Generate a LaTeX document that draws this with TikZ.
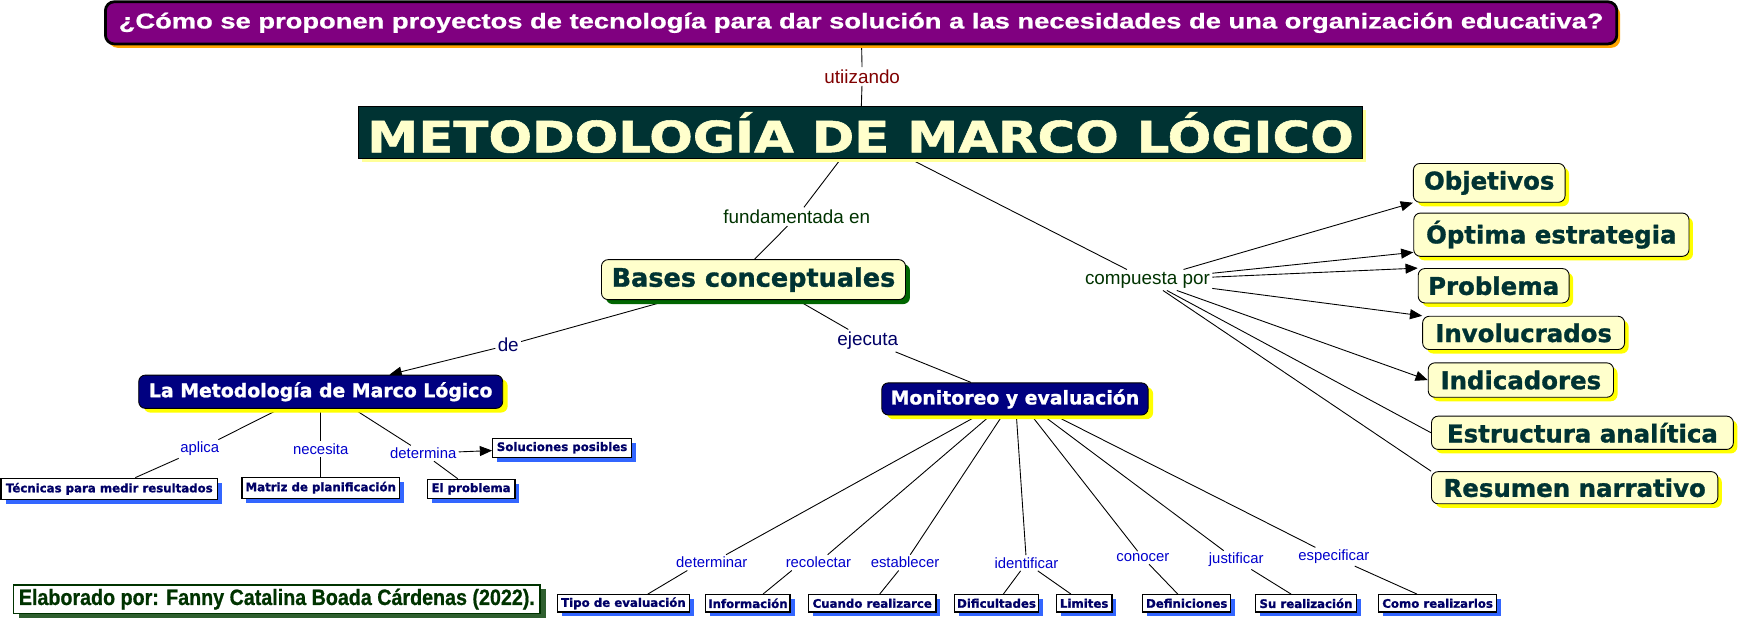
\documentclass[tikz,border=0pt]{standalone}
\usepackage{fontspec}
\setmainfont{Liberation Sans}[BoldFeatures={FakeBold=0.8}]
\newfontfamily\dv{DejaVu Sans}[BoldFeatures={FakeBold=1.2}]
\usetikzlibrary{arrows.meta,shadows,calc}
\pgfdeclarelayer{background}
\pgfsetlayers{background,main}
\definecolor{purp}{HTML}{800080}
\definecolor{orng}{HTML}{FFA500}
\definecolor{mteal}{HTML}{003333}
\definecolor{cream}{HTML}{FFFFCC}
\definecolor{paley}{HTML}{FFFF99}
\definecolor{dgreen}{HTML}{003300}
\definecolor{mgreen}{HTML}{006600}
\definecolor{navyb}{HTML}{000080}
\definecolor{navyt}{HTML}{000066}
\definecolor{lblue}{HTML}{0000CC}
\definecolor{sblue}{HTML}{3366FF}
\definecolor{yel}{HTML}{FFFF00}
\definecolor{maroonc}{HTML}{800000}
\definecolor{sgreen}{HTML}{2F5F2F}
\tikzset{
  lbl/.style={inner sep=2pt, font=\fontsize{17}{20}\selectfont},
  slbl/.style={inner sep=2pt, text=lblue, font=\fontsize{13.4}{16}\selectfont},
  titlebox/.style={draw=black, line width=2.5pt, fill=purp, rounded corners=8pt, text=white,
    font=\bfseries\fontsize{19.3}{22}\selectfont, inner sep=0pt,
    drop shadow={shadow xshift=3pt, shadow yshift=-3.5pt, fill=orng, opacity=1}},
  metbox/.style={draw=black, line width=0.8pt, fill=mteal, text=cream,
    font=\dv\bfseries\fontsize{39}{44}\selectfont, inner sep=0pt,
    drop shadow={shadow xshift=3pt, shadow yshift=-3pt, fill=paley, opacity=1}},
  basebox/.style={draw=black, line width=0.8pt, fill=cream, rounded corners=6pt, text=mteal,
    font=\dv\bfseries\fontsize{23}{26}\selectfont, inner sep=0pt,
    drop shadow={shadow xshift=4pt, shadow yshift=-4pt, fill=mgreen, opacity=1}},
  ybox/.style={draw=black, line width=0.8pt, fill=cream, rounded corners=6pt, text=mteal,
    font=\dv\bfseries\fontsize{22}{26}\selectfont, inner sep=0pt,
    drop shadow={shadow xshift=3.6pt, shadow yshift=-3.6pt, fill=yel, opacity=1}},
  nbox/.style={draw=black, line width=0.8pt, fill=navyb, rounded corners=6pt, text=white,
    font=\dv\bfseries\fontsize{17}{20}\selectfont, inner sep=0pt,
    drop shadow={shadow xshift=4.5pt, shadow yshift=-3.8pt, fill=yel, opacity=1}},
  wbox/.style={draw=black, line width=1.2pt, fill=white, text=navyt, minimum height=15.5pt,
    font=\dv\bfseries\fontsize{10.6}{12}\selectfont, inner sep=0pt,
    drop shadow={shadow xshift=4pt, shadow yshift=-4pt, fill=sblue, opacity=1}},
  sigbox/.style={draw=dgreen, line width=1.2pt, fill=white, text=dgreen,
    font=\bfseries\fontsize{20}{24}\selectfont, inner sep=0pt,
    drop shadow={shadow xshift=5pt, shadow yshift=-4pt, fill=sgreen, opacity=1}},
  conn/.style={draw=black, line width=0.8pt},
  arr/.style={conn, -{Triangle[length=11pt,width=9pt]}},
}
\begin{document}
\begin{tikzpicture}[x=1pt,y=-1pt]
\useasboundingbox (0,0) rectangle (1568,561.4);

% top
\node[titlebox, minimum width=1362pt, minimum height=38pt] (title) at (776,20.6)
  {\resizebox{1338pt}{\height}{¿Cómo se proponen proyectos de tecnología para dar solución a las necesidades de una organización educativa?}};
\node[lbl, text=maroonc] (utii) at (777,69) {utiizando};
\node[metbox, minimum width=905pt, minimum height=47pt] (met) at (775.5,119.5)
  {\resizebox{889pt}{\height}{METODOLOGÍA DE MARCO LÓGICO}};
\node[lbl, text=dgreen] (fund) at (718,195.3) {fundamentada en};
\node[lbl, text=dgreen] (cp) at (1034,252.3) {compuesta por};
\node[basebox, minimum width=274pt, minimum height=36pt] (bases) at (679,252) {Bases conceptuales};

% right boxes
\node[ybox, minimum width=136.7pt, minimum height=35pt] (obj) at (1342,164.8) {Objetivos};
\node[ybox, minimum width=248pt, minimum height=39pt] (opt) at (1398,211.5) {Óptima estrategia};
\node[ybox, minimum width=136pt, minimum height=31pt] (prob) at (1346,257.5) {Problema};
\node[ybox, minimum width=182pt, minimum height=30pt] (inv) at (1373,300) {Involucrados};
\node[ybox, minimum width=167pt, minimum height=31pt] (ind) at (1370.5,342.5) {Indicadores};
\node[ybox, minimum width=272pt, minimum height=30pt] (est) at (1426,390) {Estructura analítica};
\node[ybox, minimum width=258pt, minimum height=29pt] (res) at (1419,439.5) {Resumen narrativo};

% left branch
\node[lbl, text=navyt] (de) at (458,311) {de};
\node[nbox, minimum width=328pt, minimum height=30pt] (lamet) at (289,353) {La Metodología de Marco Lógico};
\node[slbl] (apl) at (180,404.6) {aplica};
\node[slbl] (nec) at (289,404.6) {necesita};
\node[slbl] (dtm) at (381.4,408.5) {determina};
\node[wbox, minimum width=125pt, minimum height=17pt] (sol) at (506.5,403.5) {Soluciones posibles};
\node[wbox, minimum width=195pt, minimum height=19pt] (tec) at (98.5,440.5) {Técnicas para medir resultados};
\node[wbox, minimum width=142pt, minimum height=19pt] (mat) at (289,439.5) {Matriz de planificación};
\node[wbox, minimum width=79pt, minimum height=17pt] (elp) at (424.5,440.5) {El problema};

% middle branch
\node[lbl, text=navyt] (ejec) at (782,307) {ejecuta};
\node[nbox, minimum width=240pt, minimum height=29pt] (mon) at (914.6,359.5) {Monitoreo y evaluación};
\node[slbl] (l1) at (641.4,507) {determinar};
\node[slbl] (l2) at (737.5,507) {recolectar};
\node[slbl] (l3) at (815.6,507) {establecer};
\node[slbl] (l4) at (925,507.3) {identificar};
\node[slbl] (l5) at (1029.8,502.6) {conocer};
\node[slbl] (l6) at (1114,504.7) {justificar};
\node[slbl] (l7) at (1202,501.7) {especificar};
\node[wbox, minimum width=119pt] (b1) at (561.8,543.7) {Tipo de evaluación};
\node[wbox, minimum width=76pt] (b2) at (674,543.7) {Información};
\node[wbox, minimum width=115pt] (b3) at (786,543.7) {Cuando realizarce};
\node[wbox, minimum width=76pt] (b4) at (898,543.7) {Dificultades};
\node[wbox, minimum width=50pt] (b5) at (977,543.7) {Limites};
\node[wbox, minimum width=79.2pt] (b6) at (1069.4,543.7) {Definiciones};
\node[wbox, minimum width=90.8pt] (b7) at (1176.9,543.7) {Su realización};
\node[wbox, minimum width=106.3pt] (b8) at (1295.5,543.7) {Como realizarlos};

% signature
\node[sigbox, minimum width=474.5pt, minimum height=25.7pt] (sig) at (249.5,539.9)
  {\resizebox{465pt}{\height}{Elaborado por: Fanny Catalina Boada Cárdenas (2022).}};

\begin{pgfonlayer}{background}
\fill[white] (0,0) rectangle (1568,561.4);
\draw[conn] (title) -- (utii);
\draw[conn] (utii) -- (met);
\draw[conn] ($(met.south)+(-18,0)$) -- (fund) -- ($(bases.north)+(1,0)$);
\draw[conn] ($(met.south)+(45,0)$) -- (cp);
\draw[arr] (cp) -- (obj.south west);
\draw[arr] (cp) -- ($(opt.south west)+(0,-4)$);
\draw[arr] (cp) -- (prob.north west);
\draw[arr] (cp) -- (inv.north west);
\draw[arr] (cp) -- (ind.west);
\draw[conn] (cp) -- (est.west);
\draw[conn] (cp) -- (res.north west);
\draw[arr] ($(bases.south)+(-75.5,0)$) -- (de) -- ($(lamet.north)+(62,0)$);
\draw[conn] ($(bases.south)+(39.5,0)$) -- (ejec) -- ($(mon.north)+(-39.6,0)$);
\draw[conn] ($(lamet.south)+(-37,0)$) -- (apl) -- ($(tec.north)+(23.5,0)$);
\draw[conn] (lamet.south) -- (nec) -- (mat.north);
\draw[conn] ($(lamet.south)+(29.6,0)$) -- (dtm) -- ($(elp.north)+(-12,0)$);
\draw[arr] (dtm) -- (sol);
\draw[conn] ($(mon.south west)+(86.9,0)$) -- (l1);
\draw[conn] ($(mon.south west)+(98.3,0)$) -- (l2);
\draw[conn] ($(mon.south west)+(109.1,0)$) -- (l3);
\draw[conn] ($(mon.south west)+(121.7,0)$) -- (l4);
\draw[conn] ($(mon.south west)+(135.3,0)$) -- (l5);
\draw[conn] ($(mon.south west)+(145.7,0)$) -- (l6);
\draw[conn] ($(mon.south west)+(156.3,0)$) -- (l7);
\draw[conn] ($(l1.south)+(-22,0)$) -- ($(b1.north)+(22,0)$);
\draw[conn] ($(l2.south)+(-24,0)$) -- ($(b2.north)+(13.6,0)$);
\draw[conn] (l3) -- (b3);
\draw[conn] (l4) -- (b4);
\draw[conn] (l4) -- (b5);
\draw[conn] (l5) -- (b6);
\draw[conn] (l6) -- (b7);
\draw[conn] (l7) -- (b8);
\end{pgfonlayer}
\end{tikzpicture}
\end{document}
